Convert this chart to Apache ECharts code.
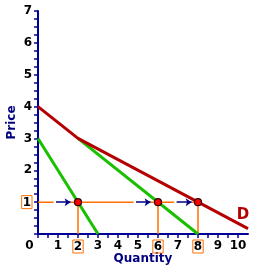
<!DOCTYPE html>
<html><head><meta charset="utf-8">
<script src="https://cdn.jsdelivr.net/npm/echarts@6/dist/echarts.min.js"></script>
<style>html,body{margin:0;padding:0;background:#fff}#c{width:260px;height:270px}</style>
</head><body><div id="c"></div>
<script>
// ---- data ----
const demandD = [[0, 4], [2, 3], [10.5, 0.17]];
const demandA = [[0, 3], [3, 0]];
const demandB = [[2, 3], [8, 0]];
const price = 1;
const quantities = [2, 6, 8];
const arrowStart = [0.9, 4.9, 6.93];
const arrowEnd = [1.63, 5.63, 7.68];
const orangeSegs = [[0, 0.78], [1.63, 4.78], [5.63, 6.81], [7.68, 8]];
const xTickLabels = [0, 1, 2, 3, 4, 5, 6, 7, 8, 9, 10];
const yTickLabels = [1, 2, 3, 4, 5, 6, 7];
const boxedX = [2, 6, 8];
const boxedY = [1];
const dLabelPos = [10.25, 0.6];

const NAVY = '#000099', RED = '#b40000', GREEN = '#19c000', ORANGE = '#ff7000';
const FONT = 'DejaVu Sans';
const FS = 12;
const richBox = {b: {borderColor: ORANGE, borderWidth: 1, padding: [1, 1, 0, 1], fontWeight: 'bold', fontSize: FS, fontFamily: FONT, color: '#000'}};

const series = [];
series.push({type: 'line', data: demandA, symbol: 'none', lineStyle: {color: GREEN, width: 3}, z: 3});
series.push({type: 'line', data: demandB, symbol: 'none', lineStyle: {color: GREEN, width: 3}, z: 3});
series.push({type: 'line', data: demandD, symbol: 'none', lineStyle: {color: RED, width: 3}, z: 4,
  markPoint: {symbol: 'circle', symbolSize: 1, itemStyle: {color: 'transparent'},
    label: {show: true, formatter: 'D', color: RED, fontWeight: 'bold', fontSize: 15, fontFamily: FONT},
    data: [{coord: dLabelPos}]}});
orangeSegs.forEach(s => series.push({type: 'line', data: [[s[0], price], [s[1], price]], symbol: 'none', lineStyle: {color: ORANGE, width: 1.5}, z: 2}));
quantities.forEach(q => series.push({type: 'line', data: [[q, price], [q, 0]], symbol: 'none', lineStyle: {color: ORANGE, width: 1.5}, z: 2}));
series.push({type: 'line', data: [], markLine: {silent: true, symbol: ['none', 'arrow'], symbolSize: [6, 6], label: {show: false},
  lineStyle: {color: '#000080', width: 1.5, type: 'solid'},
  data: arrowStart.map((a, i) => [{coord: [a, price]}, {coord: [arrowEnd[i], price]}])}});
series.push({type: 'scatter', data: quantities.map(q => [q, price]), symbolSize: 7, z: 6,
  itemStyle: {color: '#ff0000', borderColor: '#300000', borderWidth: 1.2, opacity: 1}});

const chart = echarts.init(document.getElementById('c'), null, {renderer: 'canvas'});
chart.setOption({
  animation: false,
  grid: {left: 38, right: 12, top: 11, bottom: 36, containLabel: false, outerBoundsMode: 'none'},
  xAxis: {type: 'value', min: 0, max: 10.5, interval: 0.5,
    name: 'Quantity', nameLocation: 'middle', nameGap: 19, nameMoveOverlap: false,
    nameTextStyle: {color: '#000080', fontWeight: 'bold', fontSize: FS, fontFamily: FONT},
    axisLine: {lineStyle: {color: NAVY, width: 2}},
    axisTick: {length: 4, lineStyle: {color: NAVY, width: 1.5}},
    splitLine: {show: false},
    axisLabel: {margin: 6, color: '#000', fontWeight: 'bold', fontSize: FS, fontFamily: FONT, showMaxLabel: false,
      rich: Object.assign({z: {padding: [0, 17, 0, 0], fontWeight: 'bold', fontSize: FS, fontFamily: FONT, color: '#000'}}, richBox),
      formatter: v => {
        if (!xTickLabels.includes(v)) return '';
        if (v === 0) return '{z|0}';
        if (boxedX.includes(v)) return '{b|' + v + '}';
        return String(v);
      }}},
  yAxis: {type: 'value', min: 0, max: 7, interval: 0.25,
    name: 'Price', nameLocation: 'middle', nameGap: 20, nameMoveOverlap: false,
    nameTextStyle: {color: '#000080', fontWeight: 'bold', fontSize: FS, fontFamily: FONT},
    axisLine: {show: true, lineStyle: {color: NAVY, width: 2}},
    axisTick: {show: true, length: 4, lineStyle: {color: NAVY, width: 1.5}},
    splitLine: {show: false},
    axisLabel: {margin: 6, color: '#000', fontWeight: 'bold', fontSize: FS, fontFamily: FONT,
      rich: richBox,
      formatter: v => {
        if (!yTickLabels.includes(v)) return '';
        if (boxedY.includes(v)) return '{b|' + v + '}';
        return String(v);
      }}},
  series: series
});
</script></body></html>
